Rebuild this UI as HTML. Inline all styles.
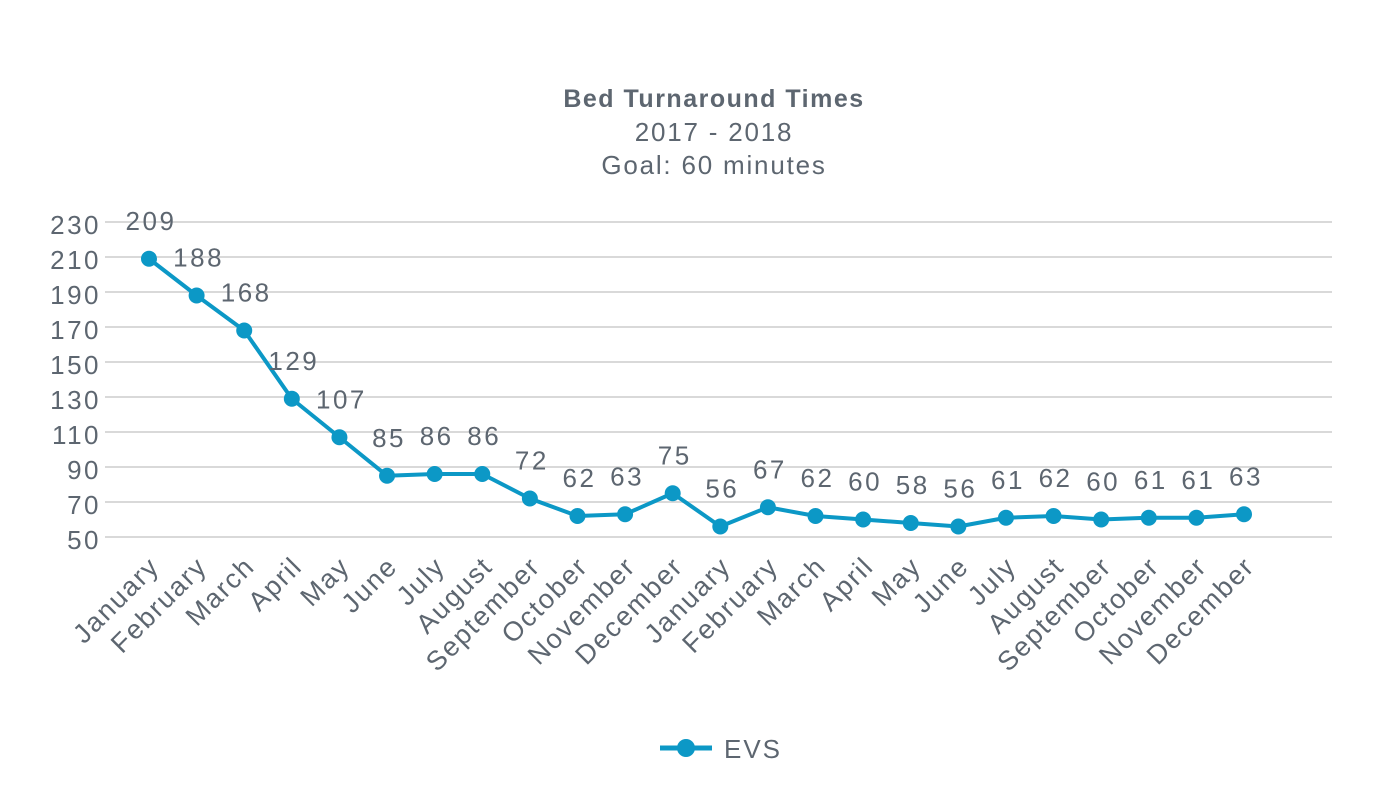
<!DOCTYPE html>
<html><head><meta charset="utf-8"><style>
body{margin:0;background:#fff;}
svg text{font-family:"Liberation Sans",sans-serif;fill:#5d6670;}
</style></head><body>
<svg id="chart" width="1374" height="807">
<text x="714" y="107" text-anchor="middle" font-size="25" font-weight="bold" letter-spacing="1.5">Bed Turnaround Times</text>
<text x="714" y="141" text-anchor="middle" font-size="26" letter-spacing="1.8">2017 - 2018</text>
<text x="714" y="174" text-anchor="middle" font-size="26" letter-spacing="1.8">Goal: 60 minutes</text>
<g id="grid"></g><g id="yt"></g><g id="xt"></g><g id="series"></g>
<g>
<line x1="660" y1="748" x2="712" y2="748" stroke="#0c98c6" stroke-width="5"/>
<circle cx="686" cy="748" r="9" fill="#0c98c6"/>
<text x="724" y="758" font-size="26" letter-spacing="2">EVS</text>
</g>
</svg>
<script>
const categories=["January","February","March","April","May","June","July","August","September","October","November","December","January","February","March","April","May","June","July","August","September","October","November","December"];
const evsValues=[209,188,168,129,107,85,86,86,72,62,63,75,56,67,62,60,58,56,61,62,60,61,61,63];
const yTicks=[50,70,90,110,130,150,170,190,210,230];
const NS="http://www.w3.org/2000/svg";
const x0=149,x1=1244,yBase=537,yTop=222,vMin=50,vMax=230;
const xs=i=>x0+(x1-x0)*i/(categories.length-1);
const ys=v=>yBase-(v-vMin)*(yBase-yTop)/(vMax-vMin);
function mk(t,a,p,txt){const e=document.createElementNS(NS,t);for(const k in a)e.setAttribute(k,a[k]);if(txt!=null)e.textContent=txt;p.appendChild(e);return e;}
const grid=document.getElementById('grid'),yt=document.getElementById('yt'),xt=document.getElementById('xt'),ser=document.getElementById('series');
yTicks.forEach(v=>{
 const l=mk('line',{x1:105,x2:1332,y1:ys(v),y2:ys(v),stroke:'#d9d9d9','stroke-width':2},grid);
 
 
 const t=mk('text',{x:101,y:ys(v)+12,'text-anchor':'end','font-size':26,'letter-spacing':2.5},yt,v);
 
 
});
categories.forEach((c,i)=>{
 const x=xs(i)+12,y=568;
 const t=mk('text',{x:x,y:y,'text-anchor':'end','font-size':27,'letter-spacing':1.8,transform:`rotate(-45 ${x} ${y})`},xt,c);
 
 
});
const path=mk('polyline',{points:evsValues.map((v,i)=>xs(i)+','+ys(v)).join(' '),fill:'none',stroke:'#0c98c6','stroke-width':4,'stroke-linejoin':'round'},ser);


evsValues.forEach((v,i)=>{
 const c=mk('circle',{cx:xs(i),cy:ys(v),r:8,fill:'#0c98c6'},ser);
 
 
 const t=mk('text',{x:xs(i)+2,y:ys(v)-29,'text-anchor':'middle','font-size':26,'letter-spacing':2.5},ser,v);
 
 
});
</script>
</body></html>
